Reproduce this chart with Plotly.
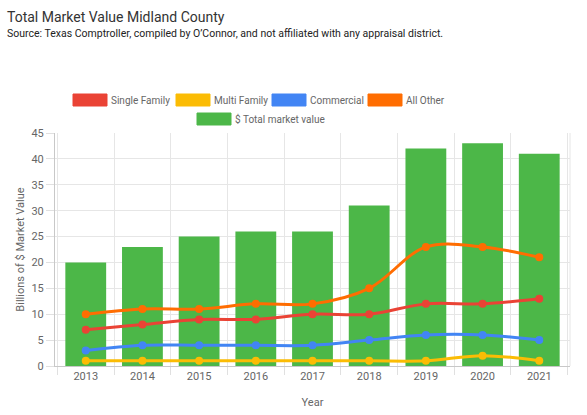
import plotly.graph_objects as go

W, H = 587, 415
# plot area in pixels
L, R, T, B = 55, 570, 133, 366

years = ['2013', '2014', '2015', '2016', '2017', '2018', '2019', '2020', '2021']
total_value = [20, 23, 25, 26, 26, 31, 42, 43, 41]
single_family = [7, 8, 9, 9, 10, 10, 12, 12, 13]
multi_family = [1, 1, 1, 1, 1, 1, 1, 2, 1]
commercial = [3, 4, 4, 4, 4, 5, 6, 6, 5]
all_other = [10, 11, 11, 12, 12, 15, 23, 23, 21]

line_series = [
    ('Single Family', single_family, '#EA4335'),
    ('Multi Family', multi_family, '#FBBC04'),
    ('Commercial', commercial, '#4285F4'),
    ('All Other', all_other, '#FF6D01'),
]
bar_name = '$ Total market value'
bar_color = '#4CB748'


def px(x, y):
    """pixel position -> paper coords"""
    return (x - L) / (R - L), (B - y) / (B - T)


fig = go.Figure()
fig.add_trace(go.Bar(x=years, y=total_value, name=bar_name,
                     marker=dict(color=bar_color, line=dict(width=0)),
                     width=0.72, showlegend=False))
for name, vals, col in line_series:
    fig.add_trace(go.Scatter(x=years, y=vals, name=name, mode='lines+markers',
                             line=dict(color=col, width=3, shape='spline', smoothing=1.0),
                             marker=dict(color=col, size=8),
                             showlegend=False))

# chart.js style legend boxes, drawn by hand
shapes = []
annos = []
legend_x = [73, 176, 272, 368]
legend_items = [(line_series[i][0], line_series[i][2], legend_x[i], 94) for i in range(4)]
legend_items.append((bar_name, bar_color, 197, 113))
for name, col, bx, by in legend_items:
    x0, y0 = px(bx, by)
    x1, y1 = px(bx + 34, by + 12)
    shapes.append(dict(type='rect', xref='paper', yref='paper', x0=x0, y0=y1, x1=x1, y1=y0,
                       fillcolor=col, line=dict(color=col, width=1)))
    tx, ty = px(bx + 36, by + 6)
    annos.append(dict(text=name, xref='paper', yref='paper', x=tx, y=ty, xanchor='left',
                      yanchor='middle', showarrow=False, font=dict(size=10, color='#666')))

tx, ty = px(5, 17)
annos.append(dict(text='Total Market Value Midland County', xref='paper', yref='paper',
                  x=tx, y=ty, xanchor='left', yanchor='middle', showarrow=False,
                  font=dict(size=14, color='#333')))
tx, ty = px(5, 33)
annos.append(dict(text='Source: Texas Comptroller, compiled by O\u2019Connor, and not affiliated with any appraisal district.',
                  xref='paper', yref='paper', x=tx, y=ty, xanchor='left', yanchor='middle',
                  showarrow=False, font=dict(size=10.5, color='#222')))

fig.update_layout(
    width=W, height=H,
    margin=dict(l=L, r=W - R, t=T, b=H - B, autoexpand=False),
    paper_bgcolor='white', plot_bgcolor='white',
    font=dict(family='Roboto, Arial, sans-serif', color='#666', size=11),
    shapes=shapes, annotations=annos,
)
fig.update_xaxes(type='category', tickson='boundaries', showgrid=True, gridcolor='#e6e6e6',
                 ticks='outside', ticklen=8, tickcolor='#e0e0e0', showline=True,
                 linecolor='#c8c8c8', linewidth=1, tickfont=dict(size=11, color='#666'),
                 title=dict(text='Year', font=dict(size=11, color='#666'), standoff=16),
                 automargin=False)
fig.update_yaxes(range=[0, 45], dtick=5, showgrid=True, gridcolor='#e6e6e6',
                 ticks='outside', ticklen=8, tickcolor='#e0e0e0', showline=True,
                 linecolor='#c8c8c8', linewidth=1, zeroline=False,
                 tickfont=dict(size=11, color='#666'), automargin=False,
                 title=dict(text='Billions of $ Market Value', font=dict(size=11, color='#666'),
                            standoff=4))
# right-side border of chart.js grid
fig.add_shape(type='line', xref='paper', yref='paper', x0=1, x1=1, y0=0, y1=1,
              line=dict(color='#e6e6e6', width=1), layer='below')

# drop the browser's default body margin so the chart sits at 0,0
fig.write_html('out.html', config={'displayModeBar': False},
               post_script="document.body.style.margin='0';")
